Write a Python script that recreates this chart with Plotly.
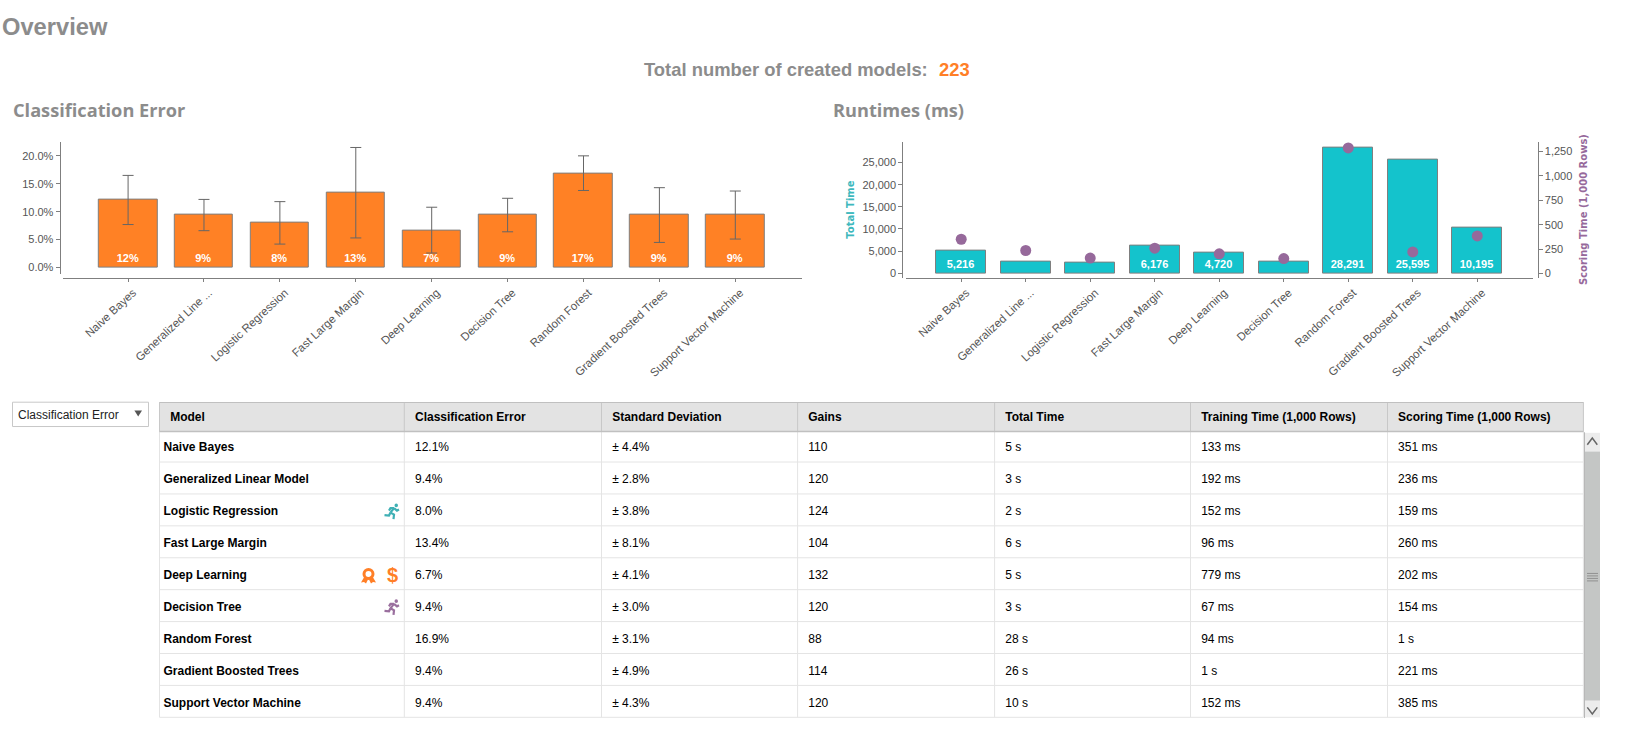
import plotly.graph_objects as go

W, H = 1637, 729

# chart data
models = ["Naive Bayes", "Generalized Linear Model", "Logistic Regression", "Fast Large Margin",
          "Deep Learning", "Decision Tree", "Random Forest", "Gradient Boosted Trees", "Support Vector Machine"]
short_labels = ["Naive Bayes", "Generalized Line ...", "Logistic Regression", "Fast Large Margin",
                "Deep Learning", "Decision Tree", "Random Forest", "Gradient Boosted Trees", "Support Vector Machine"]
class_error = [12.1, 9.4, 8.0, 13.4, 6.7, 9.4, 16.9, 9.4, 9.4]
std_dev = [4.4, 2.8, 3.8, 8.1, 4.1, 3.0, 3.1, 4.9, 4.3]
total_time = [5216, 2650, 2400, 6176, 4720, 2650, 28291, 25595, 10195]
scoring_time = [351, 236, 159, 260, 202, 154, 1284, 221, 385]
error_ticks = [0, 5, 10, 15, 20]
time_ticks = [0, 5000, 10000, 15000, 20000, 25000]
scoring_ticks = [0, 250, 500, 750, 1000, 1250]

# table data
gains = [110, 120, 124, 104, 132, 120, 88, 114, 120]
total_time_txt = ["5 s", "3 s", "2 s", "6 s", "5 s", "3 s", "28 s", "26 s", "10 s"]
training_txt = ["133 ms", "192 ms", "152 ms", "96 ms", "779 ms", "67 ms", "94 ms", "1 s", "152 ms"]
scoring_txt = ["351 ms", "236 ms", "159 ms", "260 ms", "202 ms", "154 ms", "1 s", "221 ms", "385 ms"]
headers = ["Model", "Classification Error", "Standard Deviation", "Gains", "Total Time",
           "Training Time (1,000 Rows)", "Scoring Time (1,000 Rows)"]
col_edges = [159.5, 404.3, 601.5, 797.6, 994.6, 1190.5, 1387.5, 1583.4]
row_edges = [463.3, 495.3, 527.3, 559.3, 591.3, 623.3, 655.3, 687.3, 719.3]

GRAY = "#8c8c8c"
AXIS = "#7f7f7f"
ORANGE = "#ff7f27"
TEAL = "#14c3cc"
PURPLE = "#96699b"
FONT = "Liberation Sans"


def px(x):
    return x / W


def py(y):
    return 1 - y / H


fig = go.Figure()

# Classification error bars
fig.add_trace(go.Bar(
    x=short_labels, y=class_error, xaxis="x", yaxis="y", width=0.772,
    marker=dict(color="#ff8125", line=dict(color=AXIS, width=1)),
    error_y=dict(type="data", array=std_dev, color="#666666", thickness=1, width=5.5),
    text=[f"{v:.0f}%" for v in class_error], textposition="inside", insidetextanchor="start",
    textangle=0, constraintext="none", cliponaxis=False,
    textfont=dict(family=FONT, size=11, color="white", weight="bold"),
))

# Runtime bars and scoring time dots
fig.add_trace(go.Bar(
    x=short_labels, y=total_time, xaxis="x2", yaxis="y2", width=0.775,
    marker=dict(color=TEAL, line=dict(color=AXIS, width=1)),
    text=[f"{v:,}" if v > 4000 else "" for v in total_time], textposition="inside",
    insidetextanchor="start", textangle=0, constraintext="none", cliponaxis=False,
    textfont=dict(family=FONT, size=11, color="white", weight="bold"),
))
fig.add_trace(go.Scatter(
    x=short_labels, y=scoring_time, xaxis="x2", yaxis="y3", mode="markers", cliponaxis=False,
    marker=dict(color=PURPLE, size=11),
))

# Table: model names sit closer to the rule than the other columns, so two traces
table_style = dict(font=dict(family=FONT, size=12, color="black"), align="left",
                   fill_color="rgba(0,0,0,0)", line=dict(color="rgba(0,0,0,0)", width=0))
fig.add_trace(go.Table(
    domain=dict(x=[px(col_edges[0] - 4), px(col_edges[1])], y=[py(720), py(403.3)]),
    header=dict(values=["<b>\u00a0\u00a0" + headers[0] + "</b>"], height=28, **table_style),
    cells=dict(values=[[f"<b>{m}</b>" for m in models]], height=32, **table_style),
))
fig.add_trace(go.Table(
    domain=dict(x=[px(col_edges[1] + 2.7), px(col_edges[-1] + 2.7)], y=[py(720), py(403.3)]),
    columnwidth=[b - a for a, b in zip(col_edges[1:], col_edges[2:])],
    header=dict(values=[f"<b>{h}</b>" for h in headers[1:]], height=28, **table_style),
    cells=dict(values=[[f"<span>{v:.1f}%</span>" for v in class_error],
                       [f"<span>± {v:.1f}%</span>" for v in std_dev],
                       [f"<span>{v}</span>" for v in gains],
                       [f"<span>{v}</span>" for v in total_time_txt],
                       [f"<span>{v}</span>" for v in training_txt],
                       [f"<span>{v}</span>" for v in scoring_txt]],
               height=32, **table_style),
))

tick_font = dict(family=FONT, size=11, color="#555555")
label_font = dict(family=FONT, size=11.5, color="#555555")
x_common = dict(showline=True, linecolor=AXIS, linewidth=1, ticks="outside", ticklen=3, tickcolor=AXIS,
                tickangle=-43, tickfont=label_font, showgrid=False, zeroline=False,
                anchor="free", position=py(278.3), type="category", ticklabelshift=5)
y_common = dict(showline=True, linecolor=AXIS, linewidth=1, ticks="outside", ticklen=4, tickcolor=AXIS,
                tickfont=tick_font, showgrid=False, zeroline=False, anchor="free")

fig.update_layout(
    width=W, height=H, margin=dict(l=0, r=0, t=0, b=0), showlegend=False,
    paper_bgcolor="white", plot_bgcolor="white", font=dict(family=FONT), bargap=0,
    xaxis=dict(domain=[px(62.8), px(801.8)], range=[-0.86, 8.876], **x_common),
    yaxis=dict(domain=[py(275), py(142)], range=[-1.2, 22.55], position=px(59.6),
               tickvals=error_ticks, ticktext=[f"{v:.1f}%" for v in error_ticks], **y_common),
    xaxis2=dict(domain=[px(906), px(1533.4)], range=[-0.856, 8.87], **x_common),
    yaxis2=dict(domain=[py(278.3), py(142)], range=[-970, 29730], position=px(902.3),
                tickvals=time_ticks, tickformat=",d",
                title=dict(text="<b>Total Time</b>", font=dict(family="DejaVu Sans", size=10, color="#3db8bd"), standoff=4),
                **y_common),
    yaxis3=dict(domain=[py(278.3), py(142)], range=[-40, 1348], position=px(1537.6), overlaying="y2", side="right",
                tickvals=scoring_ticks, tickformat=",d",
                title=dict(text="<b>Scoring Time (1,000 Rows)</b>", font=dict(family="DejaVu Sans", size=10, color=PURPLE), standoff=8),
                **y_common),
)


def note(x, y, text, size, color, family=FONT, weight="normal", anchor="left"):
    fig.add_annotation(x=px(x), y=py(y), xref="paper", yref="paper", text=text, showarrow=False,
                       xanchor=anchor, yanchor="middle", font=dict(family=family, size=size, color=color, weight=weight))


note(0, 27.5, "Overview", 23.7, GRAY, weight="bold")
note(642, 70, "Total number of created models:", 18.4, GRAY, weight="bold")
note(937, 70, "223", 18.4, ORANGE, weight="bold")
note(10.5, 110, "Classification Error", 18.2, GRAY, family="Open Sans", weight="bold")
note(831, 110, "Runtimes (ms)", 18.2, GRAY, family="Open Sans", weight="bold")
note(15.5, 416, "Classification Error", 12, "#222222")
note(392, 577, "$", 20, ORANGE, weight="bold", anchor="center")


def shape_path(points, color, width=0, fill=None):
    d = "M" + " L".join(f"{px(a)} {py(b)}" for a, b in points)
    if fill:
        d += " Z"
    fig.add_shape(type="path", path=d, xref="paper", yref="paper", line=dict(color=color, width=width),
                  fillcolor=fill, layer="above")


def box(x0, y0, x1, y1, fill, layer="above"):
    fig.add_shape(type="rect", xref="paper", yref="paper", x0=px(x0), x1=px(x1), y0=py(y0), y1=py(y1),
                  fillcolor=fill, line=dict(width=0), layer=layer)


# table grid
box(col_edges[0], 403.3, col_edges[-1], 433, "#e3e3e3", layer="below")
for yy in row_edges:
    shape_path([(col_edges[0], yy), (col_edges[-1], yy)], "#e4e4e4", width=1)
for xx in col_edges:
    shape_path([(xx, 433), (xx, row_edges[-1])], "#e4e4e4", width=1)
    shape_path([(xx, 403.3), (xx, 433)], "#c8c8c8", width=1)
box(col_edges[0], 403, col_edges[-1], 404, "#c0c0c0")
box(col_edges[0], 432, col_edges[-1], 433.5, "#c0c0c0")

# dropdown
fig.add_shape(type="rect", xref="paper", yref="paper", x0=px(12.5), x1=px(148.5), y0=py(403.3), y1=py(427.7),
              line=dict(color="#c8c8c8", width=1), layer="below")
shape_path([(134.4, 411.7), (142, 411.7), (138.2, 417.7)], "#555555", fill="#555555")

# scrollbar
box(1584, 433.5, 1585, 720, "#b8b8b8")
box(1585, 434, 1600, 452.7, "#ececec")
box(1585, 452.7, 1600, 702.7, "#c4c6c5")
box(1585, 702.7, 1600, 719.3, "#ececec")
shape_path([(1587.3, 446), (1592.3, 439.3), (1597.3, 446)], "#666666", width=1.5)
shape_path([(1587.3, 709.3), (1592.3, 716), (1597.3, 709.3)], "#666666", width=1.5)
for gy in [575, 577.5, 580, 582.5]:
    shape_path([(1587, gy), (1598, gy)], "#909090", width=1)


def runner(x0, y0, color):
    limbs = [
        [(10, 4.5), (6.5, 9)],
        [(6.5, 9), (10, 11), (9.5, 15.5)],
        [(6.5, 9), (5, 12), (0.5, 11.5)],
        [(10, 4.5), (13, 7), (15, 6)],
        [(10, 4.5), (6.5, 4.5), (5, 7)],
    ]
    for limb in limbs:
        shape_path([(x0 + a, y0 + b) for a, b in limb], color, width=2.2)
    fig.add_shape(type="circle", xref="paper", yref="paper", x0=px(x0 + 10.5), x1=px(x0 + 14),
                  y0=py(y0 + 3.6), y1=py(y0), fillcolor=color, line=dict(width=0), layer="above")


runner(384, 505, "#3fb0b5")
runner(384, 601, "#9a6f9e")

# ribbon icon
shape_path([(364.5, 578), (361, 584), (364, 583.5), (366, 585), (368, 581)], ORANGE, fill=ORANGE)
shape_path([(372.5, 578), (376, 584), (373, 583.5), (371, 585), (369, 581)], ORANGE, fill=ORANGE)
fig.add_shape(type="circle", xref="paper", yref="paper", x0=px(364), x1=px(373), y0=py(580), y1=py(571),
              fillcolor="white", line=dict(color=ORANGE, width=3), layer="above")

fig.write_html("out.html", config={"displayModeBar": False}, post_script="document.body.style.margin='0';")
